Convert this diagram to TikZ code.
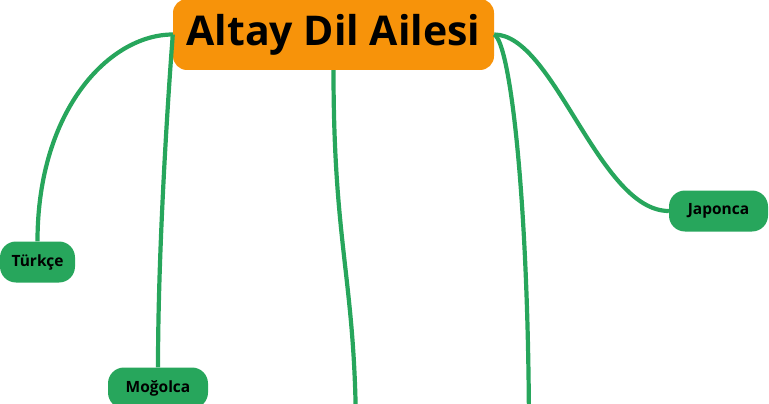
\documentclass[tikz,border=0pt]{standalone}
\usepackage{fontspec}
\setmainfont{Open Sans}
\usepackage{tikz}
\definecolor{rootorange}{HTML}{F7930A}
\definecolor{leafgreen}{HTML}{27A65C}
\tikzset{
  rootbox/.style={fill=rootorange,rounded corners=14pt,minimum width=321pt,minimum height=71pt,inner sep=0pt,font=\fontsize{41}{45}\selectfont\bfseries},
  leafbox/.style={fill=leafgreen,rounded corners=16pt,minimum height=41pt,inner sep=0pt,font=\fontsize{15.5}{18}\selectfont\bfseries},
  branch/.style={draw=leafgreen,line width=4.2pt}
}
\begin{document}
\begin{tikzpicture}[x=1pt,y=-1pt]
        \useasboundingbox (0,0) rectangle (769,404);

        \node[rootbox] (root) at (333.5,34.5) {Altay Dil Ailesi};
        \node[leafbox,minimum width=75pt] (tr) at (37.5,262) {Türkçe};
        \node[leafbox,minimum width=100pt] (mo) at (158,388) {Moğolca};
        \node[leafbox,minimum width=99pt] (ja) at (718.5,211) {Japonca};
        \coordinate (c1) at (356,440);
        \coordinate (c2) at (529,440);

        \draw[branch] (root.west) .. controls +(-63,0) and +(0,-132) .. (tr.north);
        \draw[branch] (root.west) .. controls +(-5,65) and +(0,-117) .. (mo.north);
        \draw[branch] (root.south) .. controls +(0,180) and +(0,-160) .. (c1);
        \draw[branch] (root.east) .. controls +(16,8) and +(0,-240) .. (c2);
        \draw[branch] (root.east) .. controls +(60,0) and +(-70,0) .. (ja.west);
      \end{tikzpicture}
\end{document}
